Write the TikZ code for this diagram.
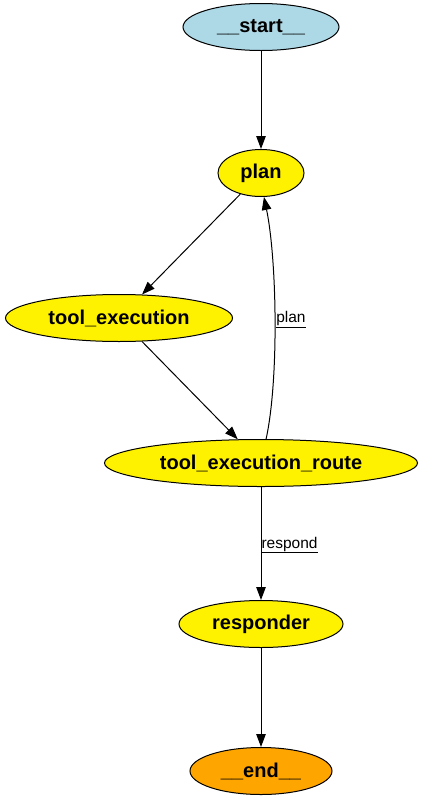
\documentclass[tikz,border=0pt]{standalone}
\usepackage{fontspec}
\setmainfont{Liberation Sans}
\usepackage{xcolor}
\usetikzlibrary{arrows.meta,shapes.geometric}

\definecolor{startblue}{HTML}{ADD8E6}
\definecolor{endorange}{HTML}{FFA500}

\tikzset{
	state/.style={ellipse, draw, line width=1pt, fill=yellow, inner sep=0pt, minimum height=47pt,
		font=\bfseries\fontsize{20}{24}\selectfont},
	edge/.style={line width=1pt, -{Triangle[length=13pt,width=9.5pt]}},
	edgelabel/.style={font=\fontsize{15.5}{18}\selectfont, inner sep=1pt}
}

\begin{document}
\begin{tikzpicture}[x=1pt,y=-1pt]
                    \useasboundingbox (0,0) rectangle (422,801);
                    
                    % Drawing node start
                    \node [state, fill=startblue, minimum width=156pt] (start) at (261,27) {\_\_start\_\_};%
                    
                    % Drawing node plan
                    \node [state, minimum width=86pt] (plan) at (261,173) {plan};%
                    
                    % Drawing node tool execution
                    \node [state, minimum width=227pt] (toolexec) at (119,318) {tool\_execution};%
                    
                    % Drawing node tool execution route
                    \node [state, minimum width=313pt] (route) at (261,463) {tool\_execution\_route};%
                    
                    % Drawing node responder
                    \node [state, minimum width=164pt] (responder) at (261,624) {responder};%
                    
                    % Drawing node end
                    \node [state, fill=endorange, minimum width=142pt] (end) at (261,771) {\_\_end\_\_};%
                    
                    % Drawing edge start plan
                    \draw [edge] (start) -- (plan);%
                    
                    % Drawing edge plan toolexec
                    \draw [edge] (plan) -- (toolexec);%
                    
                    % Drawing edge toolexec route
                    \draw [edge] (toolexec) -- (route);%
                    
                    % Drawing edge route plan
                    \draw [edge] (route.78) .. controls (279,380) and (277,260) .. (plan.-83)
                        node [edgelabel, pos=0.5, anchor=west] {\underline{plan}};%
                    
                    % Drawing edge route responder
                    \draw [edge] (route) -- (responder)
                        node [edgelabel, midway, anchor=west, inner sep=0pt, yshift=-1.5pt] {\underline{respond}};%
                    
                    % Drawing edge responder end
                    \draw [edge] (responder) -- (end);%
\end{tikzpicture}
\end{document}
